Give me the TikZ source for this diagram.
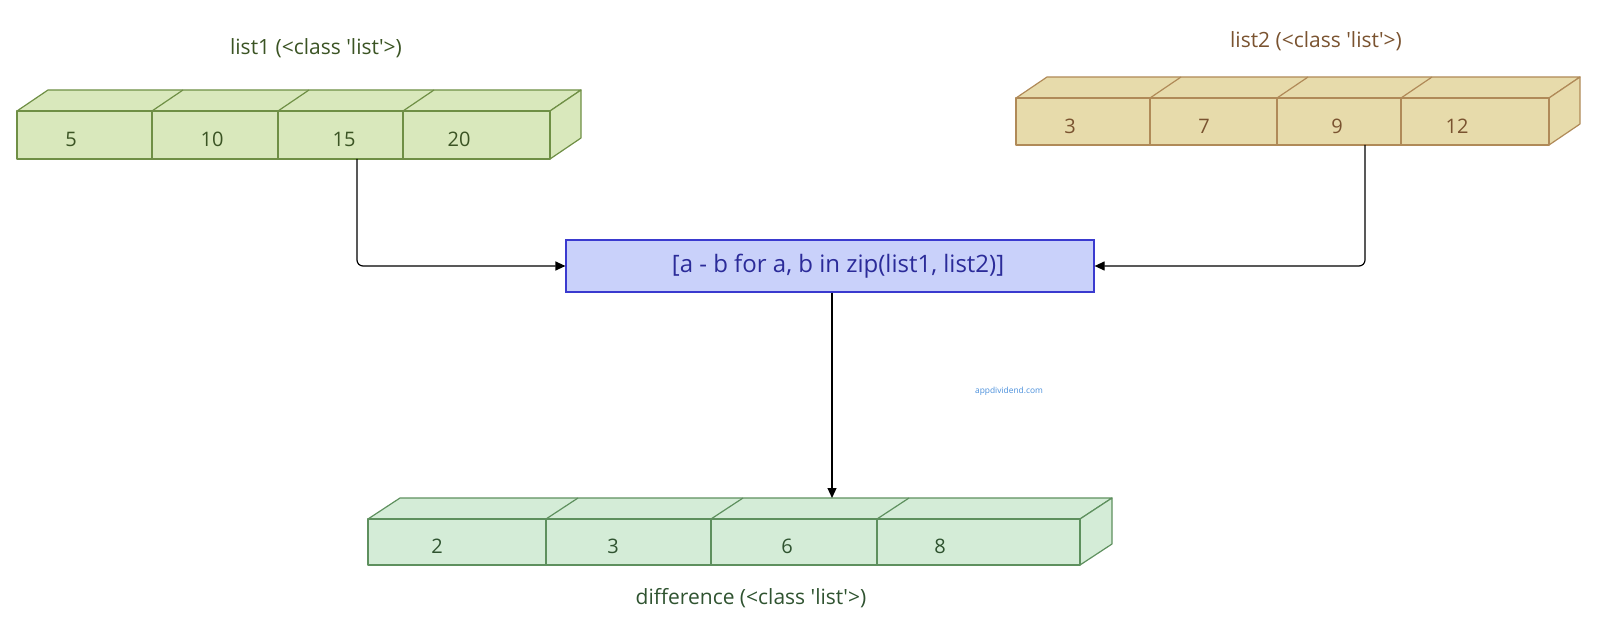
\documentclass[tikz,border=0pt]{standalone}
\usepackage{fontspec}
\setmainfont{Open Sans}
\usetikzlibrary{arrows.meta}
\definecolor{gfill}{HTML}{D9E8BC}
\definecolor{gline}{HTML}{6F8F45}
\definecolor{gtext}{HTML}{3B5424}
\definecolor{bfill}{HTML}{E7DBAB}
\definecolor{bline}{HTML}{B08A58}
\definecolor{btext}{HTML}{7A5330}
\definecolor{dfill}{HTML}{D4ECD7}
\definecolor{dline}{HTML}{5E905E}
\definecolor{dtext}{HTML}{2F5330}
\definecolor{ffill}{HTML}{C9D1FA}
\definecolor{fline}{HTML}{3A3ACF}
\definecolor{ftext}{HTML}{2B2B99}
\definecolor{wm}{HTML}{4A8FDB}
\newcommand{\sq}{\textquotesingle}
\begin{document}
\begin{tikzpicture}[x=1pt,y=-1pt,
  face/.style={line width=1.2pt, line join=round},
  num/.style={font=\fontsize{20}{24}\selectfont, inner sep=0pt},
  ttl/.style={font=\fontsize{21}{25}\selectfont, inner sep=0pt},
  conn/.style={line width=1.2pt, rounded corners=6pt, -{Triangle[length=10pt,width=9pt]}},
  fnbox/.style={draw=fline, fill=ffill, line width=1.2pt, minimum width=528pt, minimum height=52pt, text=ftext, font=\fontsize{24}{28}\selectfont}
]
\useasboundingbox (0,0) rectangle (1600,644);

% ---------- list1 ----------
\def\L{17}\def\R{550}\def\T{111}\def\B{159}\def\dx{31}\def\dy{21}
\draw[face, draw=gline, fill=gfill] (\L,\T) -- ++(\dx,-\dy) -- (\R+\dx,\T-\dy) -- (\R,\T) -- cycle;
\draw[face, draw=gline, fill=gfill] (\R,\T) -- (\R+\dx,\T-\dy) -- (\R+\dx,\B-\dy) -- (\R,\B) -- cycle;
\draw[face, draw=gline, fill=gfill] (\L,\T) rectangle (\R,\B);
\foreach \d in {152,278,403}{
  \draw[face, draw=gline] (\d,\T) -- (\d,\B);
  \draw[face, draw=gline] (\d,\T) -- ++(\dx,-\dy);
}
\node[num, text=gtext] (a1) at (71,139) {5};
\node[num, text=gtext] (a2) at (212,139) {10};
\node[num, text=gtext] (a3) at (344,139) {15};
\node[num, text=gtext] (a4) at (459,139) {20};
\node[ttl, text=gtext] (t1) at (316,48) {list1 (<class \sq list\sq>)};
\coordinate (l1out) at (357,\B);

% ---------- list2 ----------
\def\L{1016}\def\R{1549}\def\T{98}\def\B{145}
\draw[face, draw=bline, fill=bfill] (\L,\T) -- ++(\dx,-\dy) -- (\R+\dx,\T-\dy) -- (\R,\T) -- cycle;
\draw[face, draw=bline, fill=bfill] (\R,\T) -- (\R+\dx,\T-\dy) -- (\R+\dx,\B-\dy) -- (\R,\B) -- cycle;
\draw[face, draw=bline, fill=bfill] (\L,\T) rectangle (\R,\B);
\foreach \d in {1150,1277,1401}{
  \draw[face, draw=bline] (\d,\T) -- (\d,\B);
  \draw[face, draw=bline] (\d,\T) -- ++(\dx,-\dy);
}
\node[num, text=btext] (b1) at (1070,126) {3};
\node[num, text=btext] (b2) at (1204,126) {7};
\node[num, text=btext] (b3) at (1337,126) {9};
\node[num, text=btext] (b4) at (1457,126) {12};
\node[ttl, text=btext] (t2) at (1316,41) {list2 (<class \sq list\sq>)};
\coordinate (l2out) at (1365,\B);

% ---------- function box ----------
\node[fnbox] (fn) at (830,266) {\hspace*{16pt}[a - b for a, b in zip(list1, list2)]};

% ---------- difference ----------
\def\L{368}\def\R{1080}\def\T{519}\def\B{565}\def\dx{32}
\draw[face, draw=dline, fill=dfill] (\L,\T) -- ++(\dx,-\dy) -- (\R+\dx,\T-\dy) -- (\R,\T) -- cycle;
\draw[face, draw=dline, fill=dfill] (\R,\T) -- (\R+\dx,\T-\dy) -- (\R+\dx,\B-\dy) -- (\R,\B) -- cycle;
\draw[face, draw=dline, fill=dfill] (\L,\T) rectangle (\R,\B);
\foreach \d in {546,711,877}{
  \draw[face, draw=dline] (\d,\T) -- (\d,\B);
  \draw[face, draw=dline] (\d,\T) -- ++(\dx,-\dy);
}
\node[num, text=dtext] (c1) at (437,546) {2};
\node[num, text=dtext] (c2) at (613,546) {3};
\node[num, text=dtext] (c3) at (787,546) {6};
\node[num, text=dtext] (c4) at (940,546) {8};
\node[ttl, text=dtext] (t3) at (751,598) {difference (<class \sq list\sq>)};
\coordinate (dtop) at (832,498);

% ---------- connectors ----------
\draw[conn] (l1out) |- (fn.west);
\draw[conn] (l2out) |- (fn.east);
\draw[conn] (fn.south -| dtop) -- (dtop);

\node[text=wm, font=\fontsize{8.4}{10}\selectfont, inner sep=0pt] (wmk) at (1009,391) {appdividend.com};
\end{tikzpicture}
\end{document}
